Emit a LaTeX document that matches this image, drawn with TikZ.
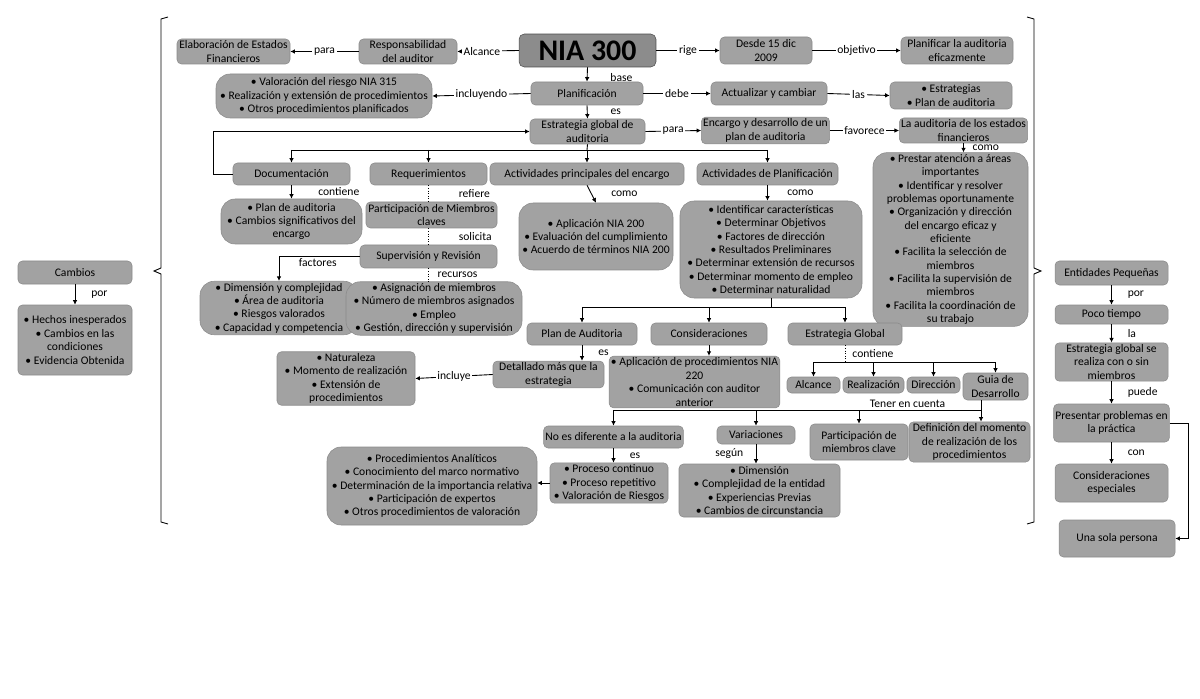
\documentclass[tikz,border=0pt]{standalone}
\usepackage{fontspec}
\setmainfont{Carlito}
\usetikzlibrary{arrows.meta}
\definecolor{boxg}{HTML}{A2A2A2}
\definecolor{niag}{HTML}{8C8C8C}
\tikzset{
  box/.style={fill=boxg,draw=boxg!85!black,line width=0.3pt,rounded corners=2.5pt,align=center,inner sep=1pt,font=\fontsize{6.6}{7.6}\selectfont},
  bigbox/.style={box,rounded corners=8pt},
  lbl/.style={font=\fontsize{6.6}{7.6}\selectfont,inner sep=1pt},
  arr/.style={-{Latex[length=2.6pt,width=2.6pt]},line width=0.5pt},
  ln/.style={line width=0.5pt},
  dot/.style={densely dotted,line width=0.5pt}
}
\newcommand{\B}[7][box]{\node[#1,minimum width={(#5-#3)*0.02cm},minimum height={(#6-#4)*0.02cm}] (#2) at ({(#3+#5)/2},{(#4+#6)/2}) {#7};}
\newcommand{\bu}{\textbullet~}
\begin{document}
\begin{tikzpicture}[x=0.02cm,y=-0.02cm]
\useasboundingbox (0,0) rectangle (1200,699);
% brackets
\draw[ln] (168,17) -- (161,19) -- (161,268) -- (154,271) -- (161,274) -- (161,522) -- (168,524);
\draw[ln] (1027,17) -- (1034,19) -- (1034,268) -- (1041,271) -- (1034,274) -- (1034,522) -- (1027,524);
% top row
\node[box,fill=niag,draw=black!70,rounded corners=3pt,minimum width=2.74cm,minimum height=0.66cm,font=\fontsize{17}{18}\selectfont\bfseries] (nia) at (587.5,50.5) {NIA 300};
\B{elab}{177}{39}{290}{64}{Elaboración de Estados\\Financieros}
\B{resp}{359}{39}{457}{64}{Responsabilidad\\del auditor}
\B{desde}{720}{37}{812}{64}{Desde 15 dic\\2009}
\B{planif}{901}{37}{1013}{64}{Planificar la auditoria\\eficazmente}
\B{plan}{531}{82}{643}{105}{Planificación}
\B[bigbox]{valor}{216}{74}{432}{118}{\bu Valoración del riesgo NIA 315\\\bu Realización y extensión de procedimientos\\\bu Otros procedimientos planificados}
\B{actu}{711}{82}{827}{105}{Actualizar y cambiar}
\B{estrs}{890}{82}{1012}{109}{\bu Estrategias\\\bu Plan de auditoria}
\B{estg}{530}{119}{645}{144}{Estrategia global de\\auditoria}
\B{encargo}{702}{118}{829}{143}{Encargo y desarrollo de un\\plan de auditoria}
\B{laaud}{900}{118}{1027}{143}{La auditoria de los estados\\financieros}
\B[bigbox]{facil}{873}{159}{1028}{320}{\bu Prestar atención a áreas\\importantes\\\bu Identificar y resolver\\problemas oportunamente\\\bu Organización y dirección\\del encargo eficaz y\\eficiente\\\bu Facilita la selección de\\miembros\\\bu Facilita la supervisión de\\miembros\\\bu Facilita la coordinación de\\su trabajo}
% second level
\B{doc}{233}{163}{350}{185}{Documentación}
\B{req}{370}{163}{487}{185}{Requerimientos}
\B{actp}{490}{163}{684}{185}{Actividades principales del encargo}
\B{actpl}{697}{163}{838}{185}{Actividades de Planificación}
\B[bigbox]{doclist}{221}{199}{362}{244}{\bu Plan de auditoria\\\bu Cambios significativos del\\encargo}
\B{part}{366}{202}{497}{228}{Participación de Miembros\\claves}
\B{sup}{360}{245}{497}{268}{Supervisión y Revisión}
\B[bigbox]{dim}{200}{282}{358}{334}{\bu Dimensión y complejidad\\\bu Área de auditoria\\\bu Riesgos valorados\\\bu Capacidad y competencia}
\B[bigbox]{asig}{346}{282}{522}{335}{\bu Asignación de miembros\\\bu Número de miembros asignados\\\bu Empleo\\\bu Gestión, dirección y supervisión}
\B[bigbox]{nia200}{519}{203}{673}{270}{\bu Aplicación NIA 200\\\bu Evaluación del cumplimiento\\\bu Acuerdo de términos NIA 200}
\B[bigbox]{ident}{680}{201}{862}{298}{\bu Identificar características\\\bu Determinar Objetivos\\\bu Factores de dirección\\\bu Resultados Preliminares\\\bu Determinar extensión de recursos\\\bu Determinar momento de empleo\\\bu Determinar naturalidad}
% third level
\B{planaud}{527}{323}{637}{345}{Plan de Auditoria}
\B{consid}{651}{323}{767}{345}{Consideraciones}
\B{estglob}{788}{323}{902}{345}{Estrategia Global}
\B{detall}{493}{362}{604}{387}{Detallado más que la\\estrategia}
\B{natur}{277}{355}{415}{402}{\bu Naturaleza\\\bu Momento de realización\\\bu Extensión de\\procedimientos}
\B{aplic}{613}{358}{776}{406}{\bu Aplicación de procedimientos NIA\\220\\\bu Comunicación con auditor\\anterior}
\B{alc}{787}{377}{840}{393}{Alcance}
\B{real}{843}{377}{904}{393}{Realización}
\B{dir}{907}{377}{960}{393}{Dirección}
\B{guia}{963}{373}{1028}{400}{Guia de\\Desarrollo}
\B{noes}{544}{426}{683}{448}{No es diferente a la auditoria}
\B{vari}{717}{426}{795}{444}{Variaciones}
\B{partc}{810}{424}{908}{460}{Participación de\\miembros clave}
\B{defin}{909}{424}{1030}{460}{Definición del momento\\de realización de los\\procedimientos}
\B{proc}{550}{463}{668}{503}{\bu Proceso continuo\\\bu Proceso repetitivo\\\bu Valoración de Riesgos}
\B[bigbox]{analit}{327}{447}{537}{525}{\bu Procedimientos Analíticos\\\bu Conocimiento del marco normativo\\\bu Determinación de la importancia relativa\\\bu Participación de expertos\\\bu Otros procedimientos de valoración}
\B{dimen}{679}{464}{840}{517}{\bu Dimensión\\\bu Complejidad de la entidad\\\bu Experiencias Previas\\\bu Cambios de circunstancia}
% left and right
\B{camb}{18}{261}{132}{284}{Cambios}
\B{camblist}{18}{305}{132}{375}{\bu Hechos inesperados\\\bu Cambios en las\\condiciones\\\bu Evidencia Obtenida}
\B{entp}{1055}{261}{1168}{285}{Entidades Pequeñas}
\B{poco}{1055}{305}{1168}{324}{Poco tiempo}
\B{egsr}{1055}{343}{1168}{381}{Estrategia global se\\realiza con o sin\\miembros}
\B{pres}{1055}{404}{1168}{442}{Presentar problemas en\\la práctica}
\B{conse}{1055}{464}{1168}{502}{Consideraciones\\especiales}
\B{una}{1059}{520}{1175}{557}{Una sola persona}
% connectors top
\draw[arr] (nia.west) -- node[lbl,fill=white,pos=0.6]{Alcance} (resp.east);
\draw[arr] (resp.west) -- node[lbl,fill=white]{para} (elab.east);
\draw[arr] (nia.east) -- node[lbl,fill=white]{rige} (desde.west);
\draw[arr] (desde.east) -- node[lbl,fill=white]{objetivo} (planif.west);
\draw[arr] (nia.south) -- node[lbl,right=12pt,pos=0.7]{base} (plan.north);
\draw[arr] (plan.west) -- node[lbl,fill=white]{incluyendo} (valor.east);
\draw[arr] (plan.east) -- node[lbl,fill=white]{debe} (actu.west);
\draw[arr] (actu.east) -- node[lbl,fill=white]{las} (estrs.west);
\draw[arr] (plan.south) -- node[lbl,right=12pt]{es} (estg.north);
\draw[arr] (estg.east) -- node[lbl,fill=white]{para} (encargo.west);
\draw[arr] (encargo.east) -- node[lbl,fill=white]{favorece} (laaud.west);
\draw[arr] (laaud.south) -- node[lbl,right=4pt]{como} (laaud.south |- facil.north);
% bus 1
\coordinate (b1) at (587,150);
\draw[ln] (estg.south) -- (b1);
\draw[ln] (doc.north |- b1) -- (actpl.north |- b1);
\draw[arr] (b1 -| doc.north) -- (doc.north);
\draw[arr] (b1 -| req.north) -- (req.north);
\draw[arr] (b1) -- (actp.north);
\draw[arr] (b1 -| actpl.north) -- (actpl.north);
\draw[arr] (doc.west) -- ++(-19,0) |- (estg.west);
\draw[arr] (doc.south) -- node[lbl,right=14pt]{contiene} (doclist.north);
\draw[dot] (req.south) -- node[lbl,right=16pt]{refiere} (req.south |- part.north);
\draw[dot] (req.south |- part.south) -- node[lbl,right=16pt]{solicita} (req.south |- sup.north);
\draw[arr] (sup.west) -| node[lbl,pos=0.75,above right,xshift=10pt]{factores} (dim.north);
\draw[dot] (sup.south -| req.south) -- node[lbl,right=4pt]{recursos} (req.south |- asig.north);
\draw[arr] (actp.south) -- node[lbl,right=10pt]{como} (nia200.north);
\draw[arr] (actpl.south) -- node[lbl,right=10pt]{como} (actpl.south |- ident.north);
% bus 2
\coordinate (b2) at (771,307);
\draw[ln] (ident.south -| b2) -- (b2);
\draw[ln] (planaud.north |- b2) -- (estglob.north |- b2);
\draw[arr] (b2 -| planaud.north) -- (planaud.north);
\draw[arr] (b2 -| consid.north) -- (consid.north);
\draw[arr] (b2 -| estglob.north) -- (estglob.north);
\draw[arr] (planaud.south) -- node[lbl,right=8pt]{es} (planaud.south |- detall.north);
\draw[arr] (detall.west) -- node[lbl,fill=white]{incluye} (natur.east);
\draw[arr] (consid.south) -- (consid.south |- aplic.north);
% bus 3
\coordinate (b3) at (845,362);
\draw[dot] (estglob.south) -- node[lbl,right=3pt]{contiene} (b3);
\draw[ln] (alc.north |- b3) -- (guia.north |- b3);
\draw[arr] (b3 -| alc.north) -- (alc.north);
\draw[arr] (b3 -| real.north) -- (real.north);
\draw[arr] (b3 -| dir.north) -- (dir.north);
\draw[arr] (b3 -| guia.north) -- (guia.north);
% bus 4
\coordinate (b4) at (981,410);
\draw[ln] (guia.south -| b4) -- (b4);
\draw[ln] (b4) -- node[lbl,above,pos=0.2]{Tener en cuenta} (noes.north |- b4);
\draw[arr] (b4 -| noes.north) -- (noes.north);
\draw[arr] (b4 -| vari.north) -- (vari.north);
\draw[arr] (b4 -| partc.north) -- (partc.north);
\draw[arr] (b4) -- (b4 |- defin.north);
\draw[arr] (noes.south) -- node[lbl,right=8pt]{es} (noes.south |- proc.north);
\draw[arr] (proc.west) -- (analit.east |- proc.west);
\draw[arr] (vari.south) -- node[lbl,left=6pt]{según} (vari.south |- dimen.north);
% sides
\draw[arr] (camb.south) -- node[lbl,right=8pt]{por} (camblist.north);
\draw[arr] (entp.south) -- node[lbl,right=8pt]{por} (poco.north);
\draw[arr] (poco.south) -- node[lbl,right=8pt]{la} (egsr.north);
\draw[arr] (egsr.south) -- node[lbl,right=8pt]{puede} (pres.north);
\draw[arr] (pres.south) -- node[lbl,right=8pt]{con} (conse.north);
\draw[arr] (pres.east) -- ++(19,0) |- (una.east);
\end{tikzpicture}
\end{document}
